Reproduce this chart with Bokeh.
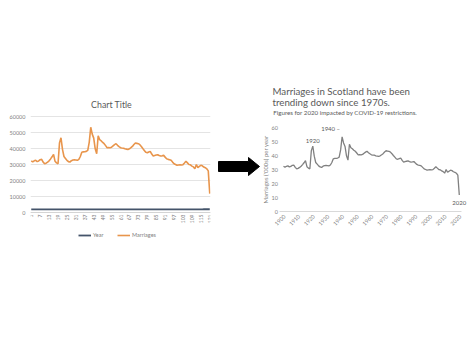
import math
from bokeh.plotting import figure
from bokeh.models import (Label, Legend, LegendItem, FixedTicker, Range1d,
                          NumeralTickFormatter, Span)
from bokeh.layouts import row
from bokeh.embed import file_html
from bokeh.resources import INLINE
from bokeh.core.properties import value

# ---------------- data ----------------
years = list(range(1900, 2021))
marriages_k = [
    32.3, 31.6, 32.3, 32.6, 31.8, 32.2, 33.0, 33.2, 31.5, 30.5,   # 1900s
    30.8, 31.5, 32.3, 33.5, 34.8, 36.3, 32.0, 31.0, 30.5, 43.5,   # 1910s
    46.7, 39.5, 35.0, 33.8, 32.6, 31.8, 31.5, 32.4, 32.8, 32.9,   # 1920s
    32.8, 32.6, 33.2, 35.0, 37.6, 37.9, 38.0, 38.2, 38.8, 44.0,   # 1930s
    53.3, 49.0, 46.5, 39.8, 36.7, 48.0, 45.5, 44.8, 43.8, 43.0,   # 1940s
    41.8, 40.5, 40.6, 40.5, 40.8, 41.6, 42.4, 43.0, 42.0, 41.2,   # 1950s
    40.5, 40.3, 40.2, 39.8, 39.6, 39.4, 39.8, 40.5, 41.3, 42.5,   # 1960s
    43.4, 43.2, 43.0, 42.4, 41.3, 40.0, 38.8, 37.6, 37.3, 37.8,   # 1970s
    38.2, 36.5, 35.3, 35.6, 35.9, 36.1, 35.6, 35.3, 35.4, 35.7,   # 1980s
    34.6, 33.6, 33.2, 33.0, 32.6, 31.5, 30.5, 30.0, 29.5, 29.7,   # 1990s
    29.9, 29.7, 29.9, 30.9, 32.0, 31.0, 30.0, 29.8, 29.0, 28.5,   # 2000s
    27.4, 30.0, 28.0, 28.8, 29.5, 29.2, 28.4, 28.0, 27.3, 26.0,   # 2010s
    11.8,                                                         # 2020
]
marriages = [round(v * 1000) for v in marriages_k]
category = list(range(1, len(years) + 1))

left_x_ticks = list(range(1, 122, 6))
left_y_ticks = [0, 10000, 20000, 30000, 40000, 50000, 60000]
right_x_ticks = list(range(1900, 2021, 10))
right_y_ticks = [0, 10, 20, 30, 40, 50, 60]

left_title = "Chart Title"
series_names = ["Year", "Marriages"]
right_title_1 = "Marriages in Scotland have been"
right_title_2 = "trending down since 1970s."
right_subtitle = "Figures for 2020 impacted by COVID-19 restrictions."
right_ylabel = "Marriages ('000s) per year"

FONT = "Lato"
GREY_TXT = "#7f7f7f"
DARK_TXT = "#595959"
TOP, BOTTOM = 78, 95          # shared frame borders of the three panels

# ---------------- left chart (Excel default) ----------------
L = figure(width=215, height=355, x_range=Range1d(0.5, 121.5),
           y_range=Range1d(-30000, 83750), output_backend="svg",
           toolbar_location=None, x_axis_location=None,
           min_border_left=30, min_border_right=5,
           min_border_top=TOP, min_border_bottom=BOTTOM)
L.outline_line_color = None
L.xgrid.grid_line_color = None
L.ygrid.grid_line_color = "#e4e4e4"
L.ygrid.ticker = FixedTicker(ticks=left_y_ticks)

L.yaxis.ticker = FixedTicker(ticks=left_y_ticks)
L.yaxis.formatter = NumeralTickFormatter(format="0")
L.yaxis.axis_line_color = None
L.yaxis.major_tick_line_color = None
L.yaxis.major_tick_out = 0
L.yaxis.minor_tick_line_color = None
L.yaxis.major_label_text_font_size = "5.5px"
L.yaxis.major_label_text_color = GREY_TXT
L.yaxis.major_label_text_font = FONT
L.yaxis.major_label_standoff = 5

L.add_layout(Span(location=0, dimension="width", line_color="#d4d4d4",
                  line_width=1))
L.text(x=left_x_ticks, y=[0] * len(left_x_ticks),
       text=[str(t) for t in left_x_ticks], angle=math.pi / 2,
       text_align="right", text_baseline="middle", y_offset=2,
       text_font=value(FONT), text_font_size="5px", text_color=GREY_TXT)

r_year = L.line(category, years, line_color="#44546a", line_width=1.8)
r_mar = L.line(category, marriages, line_color="#e8954c", line_width=1.6)

L.add_layout(Label(x=55, y=67500, text=left_title, text_align="center",
                   text_baseline="middle", text_font=FONT,
                   text_font_size="8.8px", text_color=DARK_TXT))

legend = Legend(items=[LegendItem(label=series_names[0], renderers=[r_year]),
                       LegendItem(label=series_names[1], renderers=[r_mar])],
                orientation="horizontal", location=(48, 21),
                label_text_font_size="5.5px", label_text_font=FONT,
                label_text_color=GREY_TXT, glyph_width=13, glyph_height=8,
                label_standoff=2, spacing=4, padding=0, margin=0,
                label_height=8, border_line_color=None,
                background_fill_alpha=0)
L.add_layout(legend, "center")

# ---------------- arrow ----------------
M = figure(width=45, height=355, x_range=Range1d(215, 260),
           y_range=Range1d(355 - BOTTOM, TOP), output_backend="svg",
           toolbar_location=None, min_border_left=0, min_border_right=0,
           min_border_top=TOP, min_border_bottom=BOTTOM,
           x_axis_location=None, y_axis_location=None)
M.outline_line_color = None
M.grid.visible = False
arrow_x = [218, 248, 248, 259, 248, 248, 218]
arrow_y = [161, 161, 157, 166, 175, 171, 171]
M.patch(arrow_x, arrow_y, fill_color="black", line_color="black")

# ---------------- right chart ----------------
px_per_year = 1.465
px_per_unit = 1.4
R = figure(width=214, height=355,
           x_range=Range1d(1900 - 23 / px_per_year, 1900 + 191 / px_per_year),
           y_range=Range1d(-49 / px_per_unit, 133 / px_per_unit),
           output_backend="svg", toolbar_location=None,
           x_axis_location=None, y_axis_location=None,
           min_border_left=0, min_border_right=0,
           min_border_top=TOP, min_border_bottom=BOTTOM)
R.outline_line_color = None
R.grid.visible = False

# axis line at zero
R.segment(x0=[years[0] - 2.7], y0=[0], x1=[years[-1] + 1.5], y1=[0],
          line_color="#d9d9d9", line_width=1)
# x tick labels
R.text(x=right_x_ticks, y=[0] * len(right_x_ticks),
       text=[str(t) for t in right_x_ticks], angle=math.pi / 4,
       text_align="right", text_baseline="middle", x_offset=1, y_offset=4,
       text_font=value(FONT), text_font_size="5.5px", text_color=GREY_TXT)
# y tick labels
R.text(x=[years[0] - 3.8] * len(right_y_ticks), y=right_y_ticks,
       text=[str(t) for t in right_y_ticks], text_align="right",
       text_baseline="middle", text_font=value(FONT),
       text_font_size="5.5px", text_color=GREY_TXT)
# y axis title
R.text(x=[years[0] - 12], y=[30], text=[right_ylabel], angle=math.pi / 2,
       text_align="center", text_baseline="middle", text_font=value(FONT),
       text_font_size="6px", text_color=GREY_TXT)

R.line(years, marriages_k, line_color="#808080", line_width=1.3)

R.add_layout(Label(x=1892.5, y=86.1, text=right_title_1, text_align="left",
                   text_baseline="middle", text_font=FONT,
                   text_font_size="9.7px", text_color=DARK_TXT))
R.add_layout(Label(x=1892.5, y=77.9, text=right_title_2, text_align="left",
                   text_baseline="middle", text_font=FONT,
                   text_font_size="9.7px", text_color=DARK_TXT))
R.add_layout(Label(x=1893, y=70.7, text=right_subtitle, text_align="left",
                   text_baseline="middle", text_font=FONT,
                   text_font_size="6.2px", text_color=DARK_TXT))

i1920 = years.index(1920)
i1940 = years.index(1940)
R.add_layout(Label(x=years[i1920], y=marriages_k[i1920], y_offset=3,
                   text=str(years[i1920]), text_align="center",
                   text_baseline="bottom", text_font=FONT,
                   text_font_size="6px", text_color=DARK_TXT))
R.add_layout(Label(x=years[i1940], y=marriages_k[i1940], x_offset=-2,
                   y_offset=8, text=str(years[i1940]) + " \u2013",
                   text_align="right", text_baseline="middle", text_font=FONT,
                   text_font_size="6px", text_color=DARK_TXT))
R.add_layout(Label(x=years[-1], y=marriages_k[-1], y_offset=-8,
                   text=str(years[-1]), text_align="center",
                   text_baseline="middle", text_font=FONT,
                   text_font_size="6px", text_color=DARK_TXT))

layout = row(L, M, R)
open("out.html", "w").write(file_html(layout, INLINE))
